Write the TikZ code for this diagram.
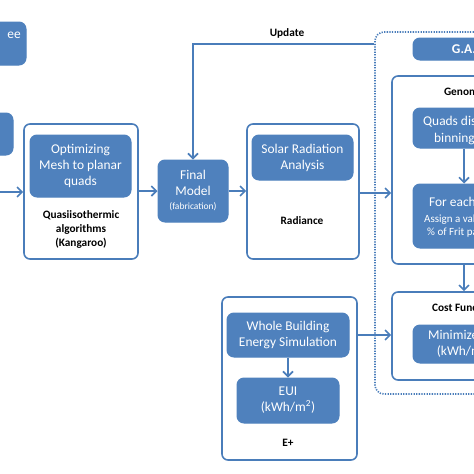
\documentclass[tikz,border=0pt]{standalone}
\usepackage{fontspec}
\setmainfont{Carlito}
\usetikzlibrary{arrows.meta}

\definecolor{boxblue}{HTML}{4F81BD}
\definecolor{lineblue}{HTML}{4A7DBA}

\tikzset{
    bluebox/.style={rectangle, rounded corners=7pt, fill=boxblue, draw=boxblue, line width=1pt,
        text=white, align=center, inner sep=0pt, font=\fontsize{13.4}{16}\selectfont},
    frame/.style={rectangle, rounded corners=6pt, draw=lineblue, line width=1.6pt, inner sep=0pt},
    gaframe/.style={rectangle, rounded corners=9pt, draw=lineblue, line width=1.6pt,
        dash pattern=on 1.3pt off 1.3pt, inner sep=0pt},
    tag/.style={font=\fontsize{11.3}{14}\selectfont\bfseries, align=center, inner sep=0pt},
    cut/.style={text=white, anchor=base west, inner sep=0pt},
    arr/.style={draw=lineblue, line width=1.6pt, -{Straight Barb[length=5pt,width=10pt]}}
}

\begin{document}
\begin{tikzpicture}[x=1pt, y=-1pt]
    \useasboundingbox (0,0) rectangle (474,474);
    \clip (0,0) rectangle (474,474);

    % left boxes (cut off)
    \node[bluebox, minimum width=96pt, minimum height=43pt] (leftA) at (-22,43.5) {};
    \node[text=white, anchor=east, inner sep=0pt, font=\fontsize{13.4}{16}\selectfont] (leftAtxt) at (21,35) {ee};
    \node[bluebox, minimum width=96pt, minimum height=42pt] (leftB) at (-35,134) {};

    % mesh
    \coordinate (in) at (0,192);
    \node[frame, minimum width=114pt, minimum height=135pt] (quasi) at (81,191.5) {};
    \node[bluebox, minimum width=101pt, minimum height=62pt] (optim) at (80.5,166) {Optimizing\\Mesh to planar\\quads};
    \node[tag] (kangaroo) at (81,229) {Quasiisothermic\\algorithms\\(Kangaroo)};
    \draw[arr] (in) -- (in -| quasi.west);

    % final model
    \node[bluebox, minimum width=70pt, minimum height=62pt] (final) at (193,191) {Final\\Model\\[-2pt]{\fontsize{9.5}{11}\selectfont (fabrication)}};
    \draw[arr] (quasi.east |- final) -- (final.west);

    % radiance
    \node[frame, minimum width=112pt, minimum height=135pt] (radiance) at (303,191.5) {};
    \node[bluebox, minimum width=101pt, minimum height=45pt] (solar) at (302.5,157.5) {Solar Radiation\\Analysis};
    \node[tag] (radtag) at (302,221) {Radiance};
    \draw[arr] (final.east) -- (final -| radiance.west);

    % G.A.
    \node[gaframe, minimum width=178pt, minimum height=362pt] (ga) at (464,213) {};
    \node[bluebox, minimum width=102pt, minimum height=22pt, font=\fontsize{13.4}{16}\selectfont\bfseries] (gabox) at (464,49) {G.A.};

    % genome
    \node[frame, minimum width=144pt, minimum height=188pt] (genome) at (464,170) {};
    \node[tag] (genotag) at (464,92) {Genome};
    \node[bluebox, minimum width=102pt, minimum height=40pt] (quads) at (464,128) {};
    \node[cut, font=\fontsize{13.4}{16}\selectfont] (quadsA) at (423,125.5) {Quads distribution};
    \node[cut, font=\fontsize{13.4}{16}\selectfont] (quadsB) at (434,142.5) {binning};
    \node[bluebox, minimum width=102pt, minimum height=64pt] (foreach) at (464,216) {};
    \node[cut, font=\fontsize{13.4}{16}\selectfont] (foreachA) at (429,206.5) {For each bin};
    \node[cut, font=\fontsize{11}{13}\selectfont] (foreachB) at (424,222) {Assign a value};
    \node[cut, font=\fontsize{11}{13}\selectfont] (foreachC) at (427,235) {\% of Frit pattern};
    \draw[arr] (quads) -- (foreach);
    \draw[arr] (radiance.east |- 0,193) -- (genome.west |- 0,193);

    % cost function
    \node[frame, minimum width=144pt, minimum height=88pt] (cost) at (464,336) {};
    \node[tag] (costtag) at (464,308) {Cost Function};
    \node[bluebox, minimum width=102pt, minimum height=38pt] (minim) at (464,344) {Minimize EUI\\(kWh/m\textsuperscript{2})};
    \draw[arr] (genome) -- (cost);

    % E+
    \node[frame, minimum width=135pt, minimum height=163pt] (eplus) at (289.5,378.5) {};
    \node[bluebox, minimum width=122pt, minimum height=44pt] (whole) at (288,335) {Whole Building\\Energy Simulation};
    \node[bluebox, minimum width=102pt, minimum height=45pt] (eui) at (288,400.5) {EUI\\(kWh/m\textsuperscript{2})};
    \node[tag] (eptag) at (288,443) {E+};
    \draw[arr] (whole) -- (eui);
    \draw[arr] (eplus.east |- whole) -- (whole -| cost.west);

    % update loop
    \coordinate (upd) at (193,44);
    \draw[arr] (ga.west |- upd) -- (upd) -- (final.north);
    \node[tag] (updtag) at (287,33) {Update};
\end{tikzpicture}
\end{document}
